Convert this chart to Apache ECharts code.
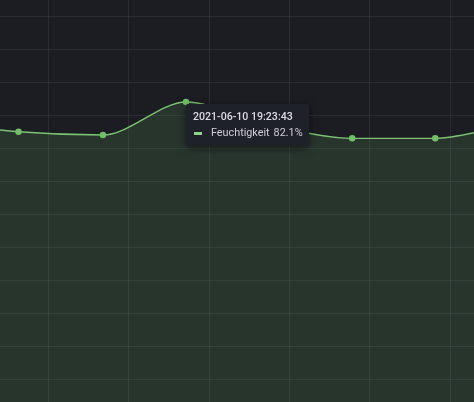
<!DOCTYPE html>
<html>
<head>
<meta charset="utf-8">
<script src="https://cdn.jsdelivr.net/npm/echarts@6/dist/echarts.min.js"></script>
<style>
html,body{margin:0;padding:0;background:#1b1d23;}
#chart{width:474px;height:402px;}
</style>
</head>
<body>
<div id="chart"></div>
<script>
// Data
const times = ['2021-06-10 19:20:36','2021-06-10 19:21:38','2021-06-10 19:22:41','2021-06-10 19:23:43','2021-06-10 19:24:45','2021-06-10 19:25:47','2021-06-10 19:26:49','2021-06-10 19:27:51'];
const humidity = [81.5, 81.2, 81.1, 82.1, 81.4, 81.0, 81.0, 81.5];
const seriesName = 'Feuchtigkeit';
const xStart = '2021-06-10 19:21:00';
const xEnd = '2021-06-10 19:28:00';
const tooltipIndex = 3;

function toMs(s){ return Date.parse(s.replace(' ','T') + 'Z'); }
const data = times.map((t,i)=>[toMs(t), humidity[i]]);

const chart = echarts.init(document.getElementById('chart'), null, {renderer:'canvas'});
const green = '#73bf69';
const gridColor = 'rgba(204,204,220,0.09)';

chart.setOption({
  backgroundColor: '#1b1d23',
  animation: false,
  grid: {left: -32.4, right: -56.4, top: -17.06, bottom: -10.76, containLabel: false, outerBoundsMode: 'none'},
  xAxis: {
    type: 'value', min: toMs(xStart), max: toMs(xEnd), interval: 60000,
    axisLine:{show:false}, axisTick:{show:false}, axisLabel:{show:false},
    splitLine:{show:true, lineStyle:{color:gridColor, width:1}}
  },
  yAxis: [
    {type:'value', min:72.7, max:85.7, show:true,
     axisLine:{show:false}, axisTick:{show:false}, axisLabel:{show:false}, splitLine:{show:false}},
    {type:'value', min:0, max:13, interval:1, show:true,
     axisLine:{show:false}, axisTick:{show:false}, axisLabel:{show:false},
     splitLine:{show:true, lineStyle:{color:gridColor, width:1}}}
  ],
  tooltip: {
    trigger:'item', triggerOn:'none', alwaysShowContent:true, transitionDuration:0,
    backgroundColor:'#1f2128', borderWidth:0, padding:[5,6,5,7],
    extraCssText:'box-shadow:0 2px 8px rgba(0,0,0,0.55);border-radius:2px;',
    position: function(){ return [186,104]; },
    formatter: function(p){
      const d = new Date(p.value[0]);
      const pad = n => String(n).padStart(2,'0');
      const ts = d.getUTCFullYear()+'-'+pad(d.getUTCMonth()+1)+'-'+pad(d.getUTCDate())+' '+pad(d.getUTCHours())+':'+pad(d.getUTCMinutes())+':'+pad(d.getUTCSeconds());
      return '<div style="font-family:Roboto,sans-serif;font-size:10.6px;line-height:16px;font-weight:500;color:#dcdde3;">'+ts+'</div>'+
        '<div style="font-family:Roboto,sans-serif;font-size:10.8px;line-height:16px;color:#cfd0d6;white-space:nowrap;">'+
        '<span style="display:inline-block;width:8px;height:3px;background:#8fd186;vertical-align:middle;margin-left:1px;margin-right:9px;"></span>'+
        p.seriesName+'<span style="margin-left:4px;">'+p.value[1].toFixed(1)+'%</span></div>';
    }
  },
  series: [{
    name: seriesName, type:'line', yAxisIndex:0, data:data, smooth:0.3,
    symbol:'circle', symbolSize:6.5, showSymbol:true,
    itemStyle:{color:green},
    lineStyle:{color:'#7cc473', width:1.4},
    areaStyle:{color:'rgba(115,191,105,0.22)', origin:'start'}
  }]
});
chart.dispatchAction({type:'showTip', seriesIndex:0, dataIndex:tooltipIndex});
</script>
</body>
</html>
